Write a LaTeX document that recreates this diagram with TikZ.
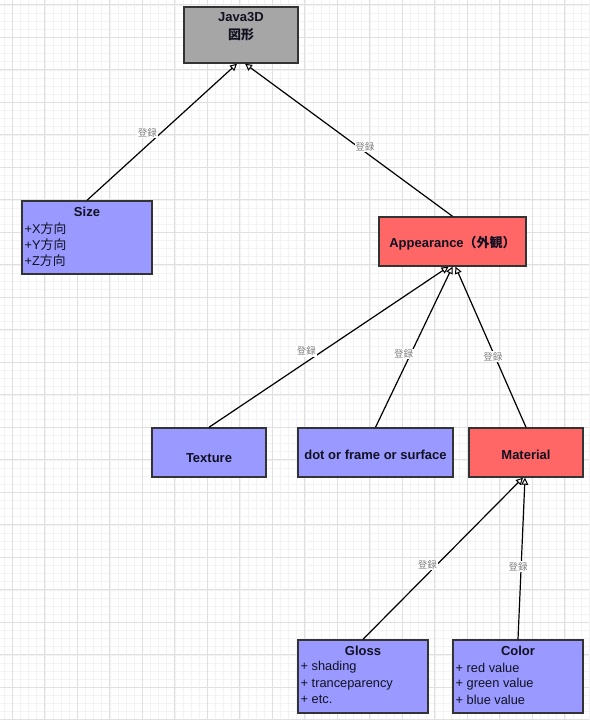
\documentclass[tikz,border=0pt]{standalone}
\usepackage{fontspec}
\setmainfont{Liberation Sans}
\newfontfamily\cjk{Noto Sans CJK JP}
\usetikzlibrary{arrows.meta}
\definecolor{boxgray}{HTML}{A6A6A6}
\definecolor{boxblue}{HTML}{9999FF}
\definecolor{boxred}{HTML}{FF6666}
\definecolor{edgecol}{HTML}{333333}
\definecolor{gridminor}{HTML}{F3F3F3}
\definecolor{gridmajor}{HTML}{E0E0E0}
\definecolor{txtcol}{HTML}{111122}
\definecolor{lblcol}{HTML}{808080}
\tikzset{
  box/.style={draw=edgecol, line width=1.4pt, rectangle, inner sep=0pt},
  graybox/.style={box, fill=boxgray},
  bluebox/.style={box, fill=boxblue},
  redbox/.style={box, fill=boxred},
  ttl/.style={inner sep=0pt, text=txtcol, font=\fontsize{13}{15}\selectfont\bfseries},
  txt/.style={inner sep=0pt, text=txtcol, anchor=west, font=\fontsize{12.8}{15}\selectfont},
  gen/.style={line width=1.2pt, -{Triangle[open, length=7pt, width=7pt, line width=1pt]}},
  lbl/.style={fill=white, inner sep=0.8pt, text=lblcol, font=\cjk\fontsize{9.5}{10}\selectfont}
}
\begin{document}
\begin{tikzpicture}[x=1pt, y=-1pt]
\useasboundingbox (0,0) rectangle (589,720);
\fill[white] (0,0) rectangle (589,720);
% grid
\foreach \i in {0,...,72} {
  \draw[gridminor, line width=0.6pt] ({4.175+8.125*\i},0) -- ({4.175+8.125*\i},720);
}
\foreach \i in {0,...,89} {
  \draw[gridminor, line width=0.6pt] (0,{4.8+8.125*\i}) -- (589,{4.8+8.125*\i});
}
\foreach \i in {0,...,18} {
  \draw[gridmajor, line width=0.8pt] ({12.3+32.5*\i},0) -- ({12.3+32.5*\i},720);
}
\foreach \i in {0,...,22} {
  \draw[gridmajor, line width=0.8pt] (0,{4.8+32.5*\i}) -- (589,{4.8+32.5*\i});
}
% boxes
\node[graybox, minimum width=114pt, minimum height=56pt] (java) at (241,35) {};
\node[ttl] (javat1) at (241,17) {Java3D};
\node[ttl, font=\cjk\fontsize{13}{15}\selectfont\bfseries] (javat2) at (241,35) {図形};

\node[bluebox, minimum width=130pt, minimum height=73pt] (size) at (87,237.5) {};
\node[ttl] (sizet) at (87,212) {Size};
\node[txt] (sizex) at (24.5,229) {+X{\cjk 方向}};
\node[txt] (sizey) at (24.5,245) {+Y{\cjk 方向}};
\node[txt] (sizez) at (24.5,261) {+Z{\cjk 方向}};

\node[redbox, minimum width=147pt, minimum height=49pt] (app) at (452.5,241.5) {};
\node[ttl] (appt) at (452.5,243) {Appearance{\cjk （外観）}};

\node[bluebox, minimum width=114pt, minimum height=49pt] (tex) at (209,452.5) {};
\node[ttl] (text) at (209,458) {Texture};

\node[bluebox, minimum width=155pt, minimum height=49pt] (dot) at (375.5,452.5) {};
\node[ttl] (dott) at (375.5,455) {dot or frame or surface};

\node[redbox, minimum width=114pt, minimum height=49pt] (mat) at (526,452.5) {};
\node[ttl] (matt) at (526,455) {Material};

\node[bluebox, minimum width=130pt, minimum height=73pt] (gloss) at (363,676.5) {};
\node[ttl] (glosst) at (363,650.5) {Gloss};
\node[txt] (gloss1) at (300.5,667.5) {+ shading};
\node[txt] (gloss2) at (300.5,684.5) {+ tranceparency};
\node[txt] (gloss3) at (300.5,699.5) {+ etc.};

\node[bluebox, minimum width=130pt, minimum height=73pt] (color) at (518,676.5) {};
\node[ttl] (colort) at (518,650.5) {Color};
\node[txt] (color1) at (455.5,667.5) {+ red value};
\node[txt] (color2) at (455.5,684.5) {+ green value};
\node[txt] (color3) at (455.5,699.5) {+ blue value};

% connectors
\draw[gen] (size.north) -- ([xshift=-4pt]java.south) node[lbl, pos=0.495, xshift=-14pt] {登録};
\draw[gen] (app.north) -- ([xshift=4pt]java.south) node[lbl, pos=0.456, xshift=7pt] {登録};
\draw[gen] (tex.north) -- ([xshift=-4pt]app.south) node[lbl, pos=0.473, xshift=-16pt] {登録};
\draw[gen] (dot.north) -- ([xshift=0pt]app.south) node[lbl, pos=0.456, xshift=-7pt] {登録};
\draw[gen] (mat.north) -- ([xshift=3pt]app.south) node[lbl, pos=0.44, xshift=-2pt] {登録};
\draw[gen] (gloss.north) -- ([xshift=-3pt]mat.south) node[lbl, pos=0.459, xshift=-9pt] {登録};
\draw[gen] (color.north) -- ([xshift=-1pt]mat.south) node[lbl, pos=0.45, xshift=-3pt] {登録};
\end{tikzpicture}
\end{document}
